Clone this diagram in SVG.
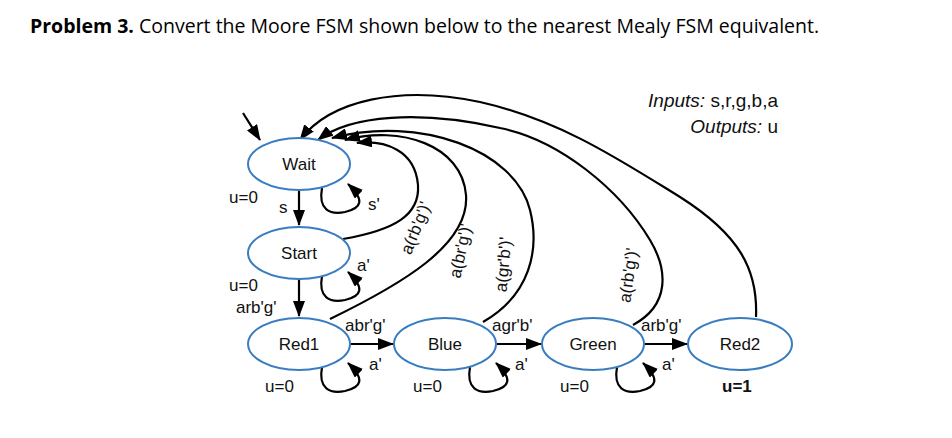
<svg xmlns="http://www.w3.org/2000/svg" width="952" height="438" viewBox="0 0 952 438">
<style>
.n{fill:#fff;stroke:#3a7cc0;stroke-width:2}
.t{font-family:"Liberation Sans",Arial,sans-serif;font-size:17px;fill:#111}
.e{fill:none;stroke:#000;stroke-width:2.2}
.h{font-family:"Open Sans","Liberation Sans",sans-serif;font-size:19.5px;fill:#000}
</style>
<defs>
<marker id="m" viewBox="0 0 16 12" refX="15" refY="6" markerWidth="16" markerHeight="12" markerUnits="userSpaceOnUse" orient="auto"><path d="M0,0 L16,6 L0,12 z"/></marker></defs>
<text x="30" y="33" class="h"><tspan font-weight="bold">Problem 3.</tspan> Convert the Moore FSM shown below to the nearest Mealy FSM equivalent.</text>
<text x="778" y="107" class="t" style="font-size:19px" text-anchor="end"><tspan font-style="italic">Inputs:</tspan> s,r,g,b,a</text>
<text x="778" y="133" class="t" style="font-size:19px" text-anchor="end"><tspan font-style="italic">Outputs:</tspan> u</text>
<g id="connectors">
<path class="e" marker-end="url(#m)" d="M243,113 L260,140"/>
<path class="e" marker-end="url(#m)" d="M299,191 L299,225"/>
<path class="e" marker-end="url(#m)" d="M299,280 L299,316"/>
<path class="e" marker-end="url(#m)" d="M351,344 L393,344"/>
<path class="e" marker-end="url(#m)" d="M497,344 L541,344"/>
<path class="e" marker-end="url(#m)" d="M645,344 L687,344"/>
<path class="e" marker-end="url(#m)" d="M343,239 C395,230 420,215 418,185 C415,150 385,140 357,143"/>
<path class="e" marker-end="url(#m)" d="M330,319 C400,285 470,245 466,195 C462,145 400,125 345,140"/>
<path class="e" marker-end="url(#m)" d="M483,322 C530,295 540,250 530,210 C515,150 420,115 332,138"/>
<path class="e" marker-end="url(#m)" d="M633,325 C670,305 668,270 650,240 C620,190 560,140 500,128 C420,110 350,115 318,140"/>
<path class="e" marker-end="url(#m)" d="M756,317 C758,270 740,235 680,197 C620,160 560,120 480,102 C400,85 330,100 300,140"/>
<g id="loops">
<path class="e" marker-end="url(#m)" d="M322,188 C318,210 330,215 345,212 C362,208 365,200 348,184"/>
<path class="e" marker-end="url(#m)" d="M322,276 C318,298 330,303 345,300 C362,296 365,288 348,272"/>
<path class="e" marker-end="url(#m)" d="M322,367 C318,389 330,394 345,391 C362,387 365,379 348,363"/>
<path class="e" marker-end="url(#m)" d="M470,367 C466,389 478,394 493,391 C510,387 513,379 496,363"/>
<path class="e" marker-end="url(#m)" d="M617,367 C613,389 625,394 640,391 C657,387 660,379 643,363"/>
</g>
</g>
<g id="Wait"><ellipse class="n" cx="299" cy="164" rx="51" ry="26"/><text class="t" x="299" y="170" text-anchor="middle">Wait</text></g>
<g id="Start"><ellipse class="n" cx="299" cy="253" rx="51" ry="26"/><text class="t" x="299" y="259" text-anchor="middle">Start</text></g>
<g id="Red1"><ellipse class="n" cx="299" cy="344" rx="51" ry="26"/><text class="t" x="299" y="350" text-anchor="middle">Red1</text></g>
<g id="Blue"><ellipse class="n" cx="445" cy="344" rx="51" ry="26"/><text class="t" x="445" y="350" text-anchor="middle">Blue</text></g>
<g id="Green"><ellipse class="n" cx="593" cy="344" rx="51" ry="26"/><text class="t" x="593" y="350" text-anchor="middle">Green</text></g>
<g id="Red2"><ellipse class="n" cx="740" cy="344" rx="52" ry="26"/><text class="t" x="740" y="350" text-anchor="middle">Red2</text></g>
<g id="labels" class="t">
<text x="229" y="203">u=0</text>
<text x="279" y="213">s</text>
<text x="368" y="210">s'</text>
<text x="229" y="291">u=0</text>
<text x="236" y="313">arb'g'</text>
<text x="357" y="271">a'</text>
<text x="345" y="331">abr'g'</text>
<text x="369" y="370">a'</text>
<text x="265" y="392">u=0</text>
<text x="492" y="331">agr'b'</text>
<text x="515" y="370">a'</text>
<text x="413" y="392">u=0</text>
<text x="641" y="331">arb'g'</text>
<text x="662" y="370">a'</text>
<text x="560" y="392">u=0</text>
<text x="722" y="392" font-weight="bold">u=1</text>
<text text-anchor="middle" transform="translate(421,230) rotate(-68)">a(rb'g')'</text>
<text text-anchor="middle" transform="translate(466,252) rotate(-78)">a(br'g')'</text>
<text text-anchor="middle" transform="translate(509,265) rotate(-85)">a(gr'b')'</text>
<text text-anchor="middle" transform="translate(634,276) rotate(-82)">a(rb'g')'</text>
</g>
</svg>
